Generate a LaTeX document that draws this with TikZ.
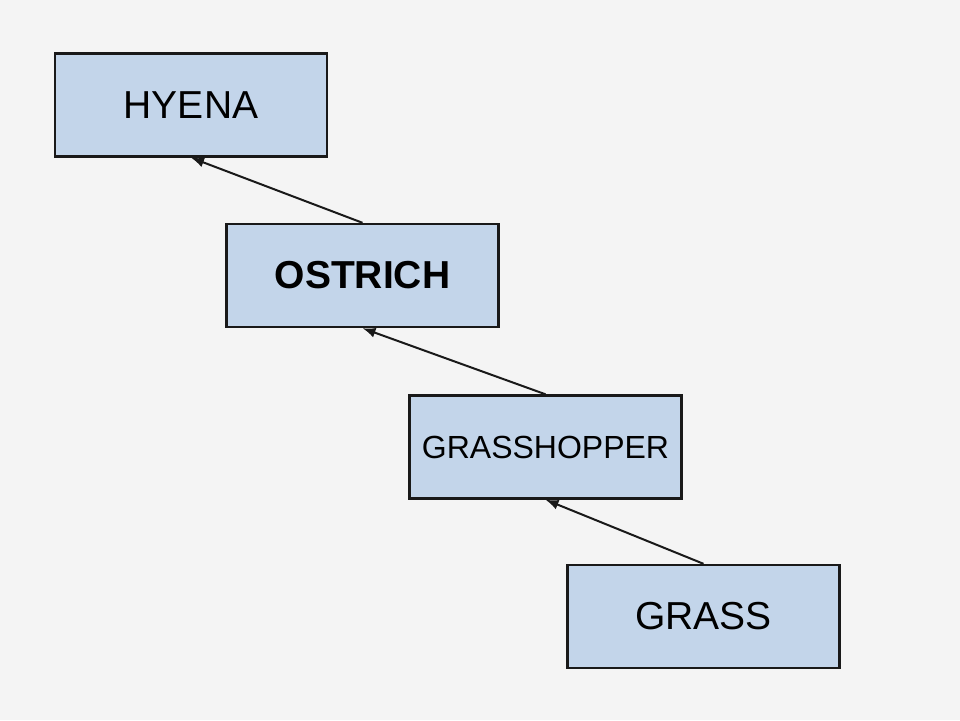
\documentclass[tikz,border=0pt]{standalone}
\usepackage{fontspec}
\setmainfont{Liberation Sans}
\usepackage{tikz}
\usetikzlibrary{shapes,calc,arrows.meta}
\definecolor{paper}{RGB}{244,244,244}
\definecolor{boxblue}{RGB}{195,213,234}
\definecolor{edge}{RGB}{25,25,25}

\begin{document}
\begin{tikzpicture}[x=1pt, y=-1pt,
    foodbox/.style={draw=edge, line width=2.4pt, fill=boxblue, minimum width=272pt, minimum height=103pt, inner sep=0pt, font=\fontsize{39}{47}\selectfont},
    eats/.style={draw=edge, line width=2pt, -{Latex[length=13pt,width=10pt]}}]
    \fill[paper] (0,0) rectangle (960,720);
    \useasboundingbox (0,0) rectangle (960,720);
    \node[foodbox] (hyena) at (191,105) {HYENA};
    \node[foodbox, font=\fontsize{39}{47}\selectfont\bfseries] (ostrich) at (362.5,275.5) {OSTRICH};
    \node[foodbox, font=\fontsize{32}{38}\selectfont] (grasshopper) at (545.5,447) {GRASSHOPPER};
    \node[foodbox] (grass) at (703.5,616.5) {GRASS};
    \draw[eats] (ostrich.north) -- (hyena.south);
    \draw[eats] (grasshopper.north) -- (ostrich.south);
    \draw[eats] (grass.north) -- (grasshopper.south);
\end{tikzpicture}
\end{document}
